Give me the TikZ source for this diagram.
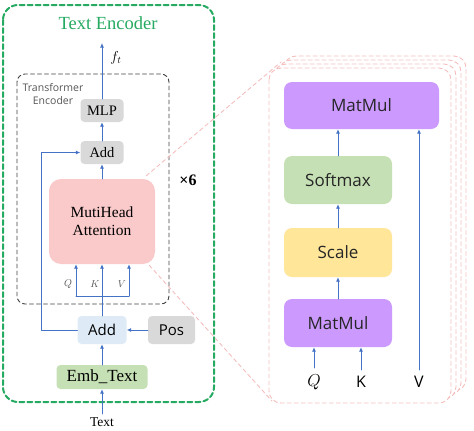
\documentclass[tikz,border=0pt]{standalone}
\usepackage{amsmath}
\usepackage{fontspec}
\setmainfont{Liberation Serif}
\setsansfont{Open Sans}
\usepackage{tikz}
\usetikzlibrary{arrows.meta}

\definecolor{encgreen}{RGB}{38,170,98}
\definecolor{arrowblue}{RGB}{68,114,196}
\definecolor{boxgray}{RGB}{217,217,217}
\definecolor{attnpink}{RGB}{250,202,202}
\definecolor{addblue}{RGB}{222,235,247}
\definecolor{embgreen}{RGB}{197,224,180}
\definecolor{mmpurple}{RGB}{204,153,255}
\definecolor{scaleyellow}{RGB}{255,230,153}
\definecolor{zoompink}{RGB}{245,190,190}
\definecolor{txtgray}{RGB}{85,85,85}

\begin{document}
\begin{tikzpicture}[x=1pt, y=-1pt, line cap=round, line join=round,
        flow/.style={-{Latex[length=4.5pt,width=4pt]}, draw=arrowblue, line width=1pt},
        link/.style={draw=arrowblue, line width=1pt},
        blk/.style={rounded corners=4pt, inner sep=0pt, font=\fontsize{14.5}{16}\selectfont},
        sblk/.style={rounded corners=8pt, inner sep=0pt, text=black!85,
                     font=\sffamily\fontsize{17}{20}\selectfont},
        pinkdash/.style={draw=zoompink, line width=0.9pt, dash pattern=on 4pt off 3pt}]
                \useasboundingbox (0,0) rectangle (474,431);
               % outer text encoder frame
                \draw[encgreen, line width=2pt, dash pattern=on 5pt off 3pt, rounded corners=15pt]
                        (3,5) rectangle (214,402);
                \node[text=encgreen, font=\fontsize{18.5}{20}\selectfont] (title) at (108,23) {Text Encoder};
                % transformer encoder frame
                \draw[black!75, line width=0.9pt, dash pattern=on 4pt off 3pt, rounded corners=8pt]
                        (17,74) rectangle (169,304);
                \node[text=txtgray, align=center, font=\sffamily\fontsize{10.5}{13}\selectfont] (tflab) at (53,94) {Transformer\\Encoder};
                \node[font=\bfseries\fontsize{16}{18}\selectfont] (times) at (188,180) {×6};
                % blocks of the encoder
                \node[blk, fill=boxgray, minimum width=43pt, minimum height=23pt] (mlp) at (102,110.5) {MLP};
                \node[blk, fill=boxgray, minimum width=43pt, minimum height=23pt] (addtop) at (102,152.5) {Add};
                \node[blk, fill=attnpink, rounded corners=12pt, align=center, minimum width=106pt, minimum height=85pt, font=\fontsize{15.5}{17}\selectfont] (mha) at (102,221.5) {MutiHead\\[1pt]Attention};
                \node[blk, fill=addblue, minimum width=49pt, minimum height=28pt, font=\sffamily\fontsize{15}{17}\selectfont] (addbot) at (102,330) {Add};
                \node[blk, fill=boxgray, minimum width=47pt, minimum height=28pt, font=\sffamily\fontsize{15}{17}\selectfont] (pos) at (171.5,330) {Pos};
                \node[blk, fill=embgreen, minimum width=91pt, minimum height=24pt, font=\fontsize{17}{19}\selectfont] (emb) at (102,377) {Emb\_Text};
                \node[font=\fontsize{13.5}{15}\selectfont] (txt) at (102,422) {Text};
                \node[font=\fontsize{14}{16}\selectfont] (ft) at (116,58) {$f_t$};
                \coordinate (out) at (102,43);
                % q k v inputs
                \node[text=txtgray, font=\fontsize{10}{12}\selectfont] (ql) at (68,284) {$Q$};
                \node[text=txtgray, font=\fontsize{10}{12}\selectfont] (kl) at (95,284) {$K$};
                \node[text=txtgray, font=\fontsize{10}{12}\selectfont] (vl) at (122,284) {$V$};
                \coordinate (qfoot) at (76,296);
                \coordinate (vfoot) at (129,296);
                \coordinate (res) at (41,330);
                % encoder connectors
                \draw[flow] (txt.north) -- (emb.south);
                \draw[flow] (emb.north) -- (addbot.south);
                \draw[flow] (pos.west) -- (addbot.east);
                \draw[flow] (addbot.north) -- (mha.south);
                \draw[link] (qfoot) -- (vfoot);
                \draw[flow] (qfoot) -- (qfoot |- mha.south);
                \draw[flow] (vfoot) -- (vfoot |- mha.south);
                \draw[flow] (addbot.west) -- (res) |- (addtop.west);
                \draw[flow] (mha.north) -- (addtop.south);
                \draw[flow] (addtop.north) -- (mlp.south);
                \draw[flow] (mlp.north) -- (out);
                % zoom lines
                \coordinate (ztop) at (281,62);
                \coordinate (zbot) at (272,401);
                \draw[pinkdash] (mha.north east) ++(-9,-3) -- (ztop);
                \draw[pinkdash] (mha.south east) ++(-6,1) -- (zbot);
                % stacked attention sheets
                \foreach \k in {3,2,1,0}
                        \draw[pinkdash, fill=white, rounded corners=12pt]
                                ({269+5*\k},{68-4*\k}) rectangle ({451+5*\k},{403-4*\k});
                % scaled dot product blocks
                \node[sblk, fill=mmpurple, minimum width=155pt, minimum height=47pt] (mmtop) at (361.5,105.5) {MatMul};
                \node[sblk, fill=embgreen, minimum width=108pt, minimum height=48pt] (soft) at (338,180) {Softmax};
                \node[sblk, fill=scaleyellow, minimum width=108pt, minimum height=49pt] (scale) at (338,252.5) {Scale};
                \node[sblk, fill=mmpurple, minimum width=108pt, minimum height=48pt] (mmbot) at (338,323) {MatMul};
                \node[font=\fontsize{16}{18}\selectfont] (qr) at (314,382) {$Q$};
                \node[font=\sffamily\fontsize{16}{18}\selectfont] (kr) at (361,382) {K};
                \node[font=\sffamily\fontsize{16}{18}\selectfont] (vr) at (419,382) {V};
                \draw[flow] (mmbot.north) -- (scale.south);
                \draw[flow] (scale.north) -- (soft.south);
                \draw[flow] (soft.north) -- (soft.north |- mmtop.south);
                \draw[flow, shorten <=3pt] (qr.north) -- (qr |- mmbot.south);
                \draw[flow, shorten <=3pt] (kr.north) -- (kr |- mmbot.south);
                \draw[flow, shorten <=3pt] (vr.north) -- (vr |- mmtop.south);
        \end{tikzpicture}
\end{document}
